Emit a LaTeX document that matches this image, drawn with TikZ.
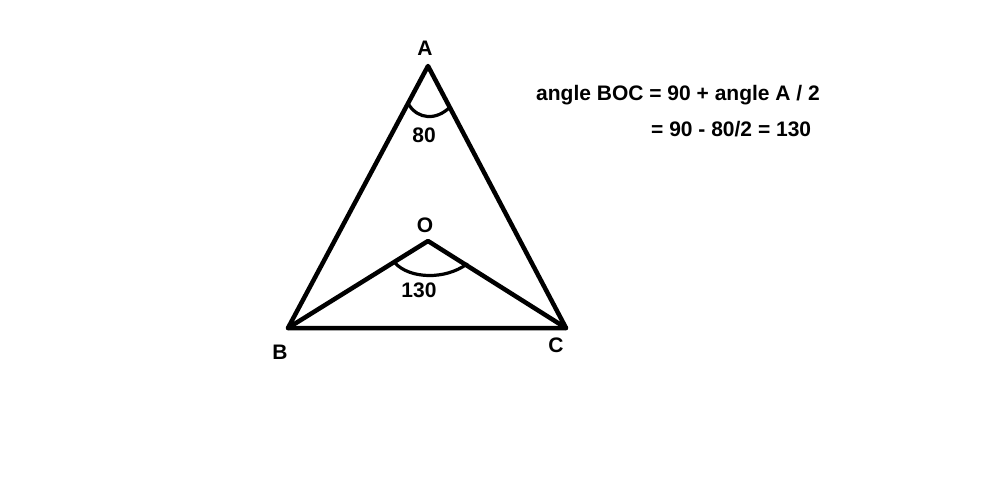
\documentclass[tikz,border=0pt]{standalone}
\usepackage{fontspec}
\setmainfont{Liberation Sans}
\begin{document}
\begin{tikzpicture}[x=1pt,y=-1pt,
  edge/.style={line width=4.5pt,line cap=round,line join=round},
  anglearc/.style={line width=3.2pt,line cap=round},
  lbl/.style={font=\fontsize{21}{25}\selectfont\bfseries,inner sep=0pt}]
\useasboundingbox (0,0) rectangle (996,490);
\coordinate (A) at (428,66);
\coordinate (B) at (288,328);
\coordinate (C) at (566,328);
\coordinate (O) at (428,241);
\draw[edge] (A) -- (B) -- (C) -- cycle;
\draw[edge] (B) -- (O) -- (C);
\coordinate (a1) at (409,105);
\coordinate (a2) at (450,107);
\draw[anglearc] (a1) .. controls (418,119) and (436,121) .. (a2);
\coordinate (o1) at (395,263);
\coordinate (o2) at (467,264);
\draw[anglearc] (o1) .. controls (410,279) and (445,280) .. (o2);
\node[lbl] (la) at (425,48) {A};
\node[lbl] (lb) at (280,352) {B};
\node[lbl] (lc) at (556,345) {C};
\node[lbl] (lo) at (425,225) {O};
\node[lbl] (l80) at (424,135) {80};
\node[lbl] (l130) at (419,290) {130};
\node[lbl,anchor=west] (eq1) at (536,95) {angle BOC = 90 + angle A / 2};
\node[lbl,anchor=west] (eq2) at (651,129) {= 90 - 80/2 = 130};
\end{tikzpicture}
\end{document}
